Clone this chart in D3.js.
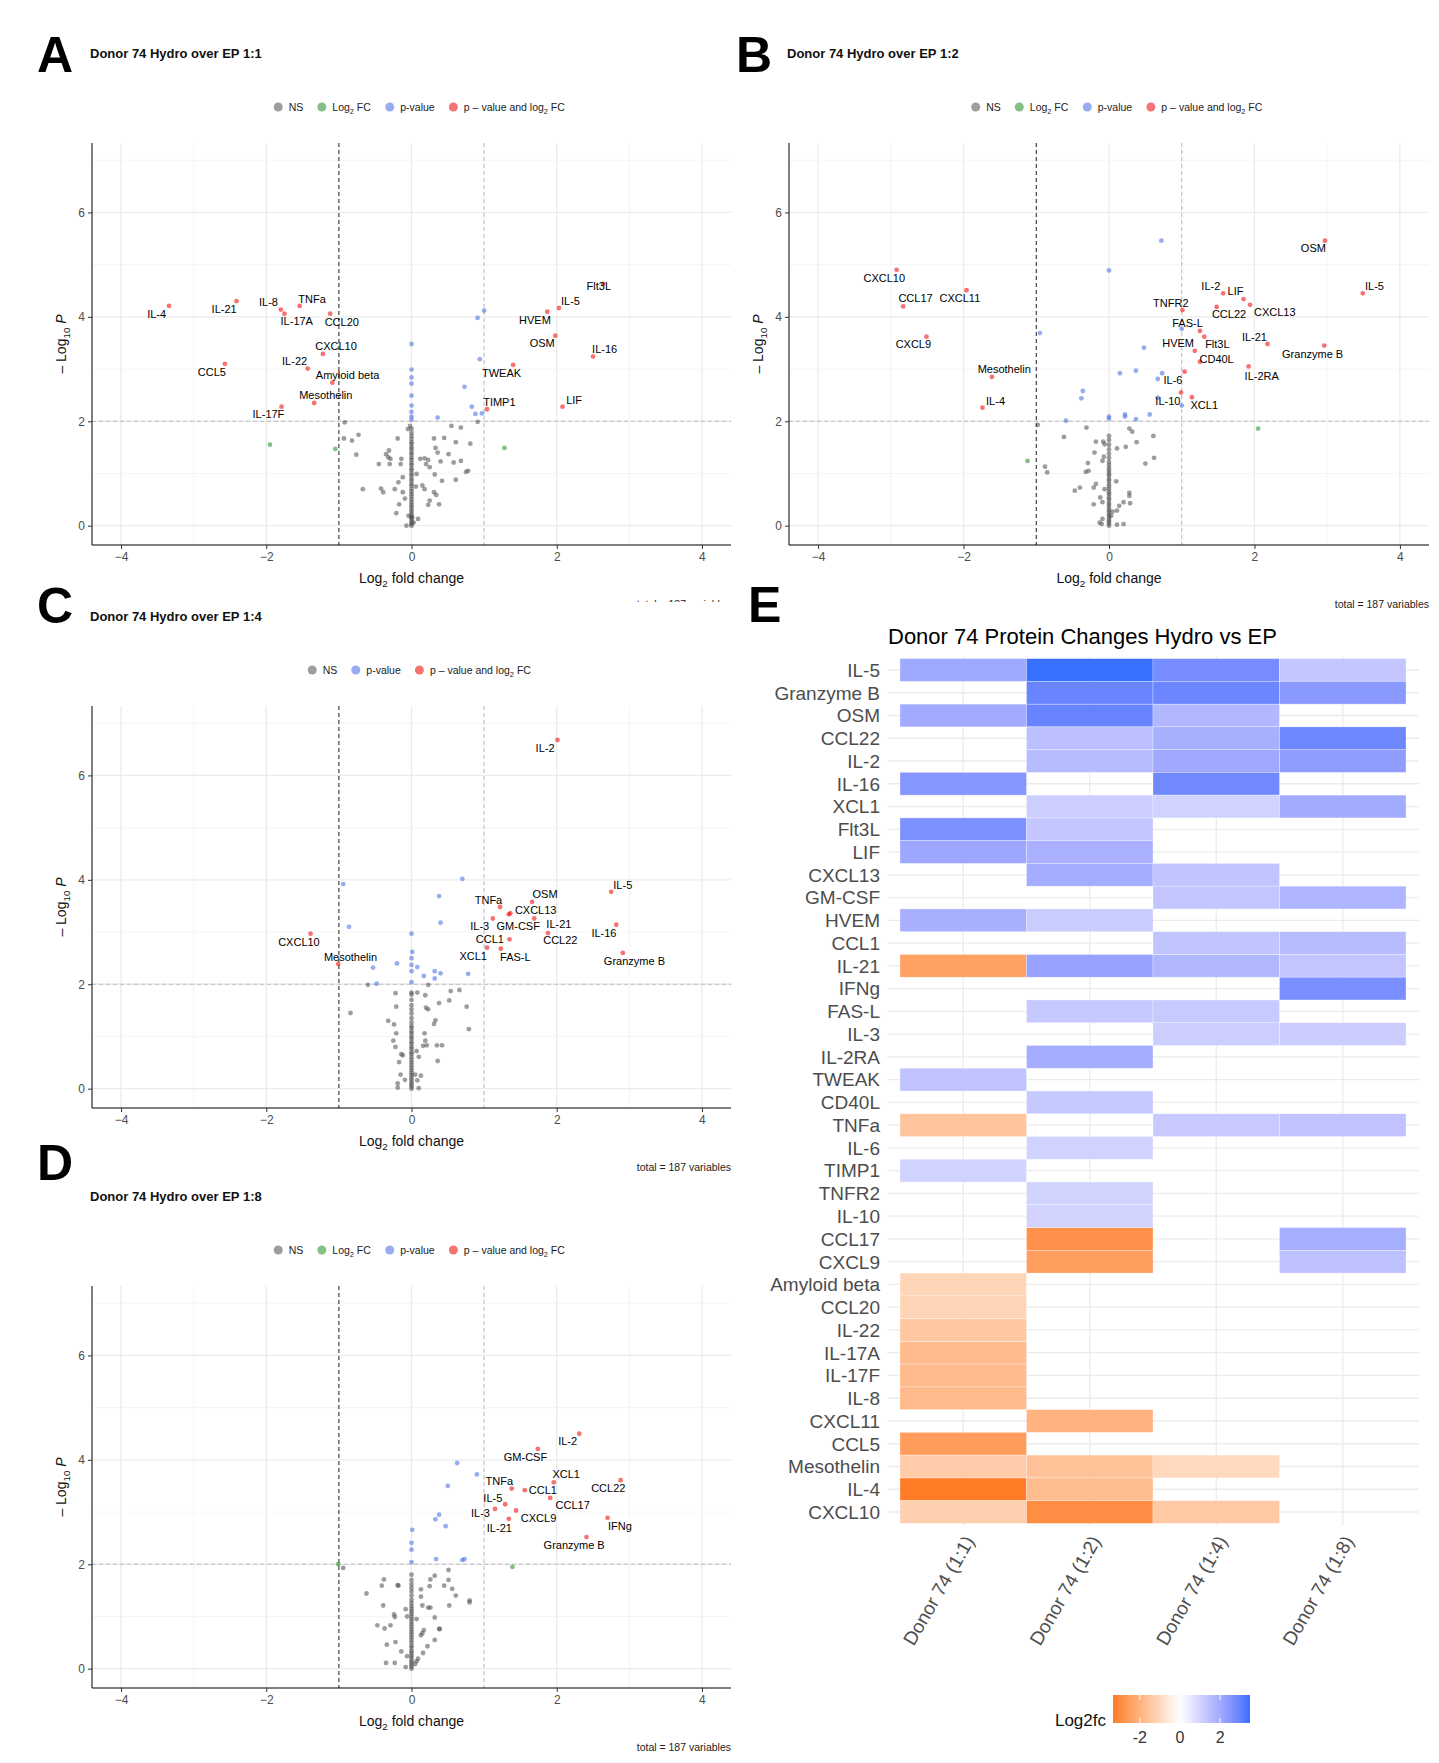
<!DOCTYPE html>
<html lang="en">
<head>
<meta charset="UTF-8">
<title>Donor 74 Hydro over EP</title>
<script src="https://d3js.org/d3.v7.min.js"></script>
<style>
  body { margin: 0; background: #fff; }
  svg { display: block; font-family: "Liberation Sans", Arial, sans-serif; }
</style>
</head>
<body>
<svg id="fig" width="1439" height="1763"></svg>
<script>
// ---- volcano data: [protein, log2FC, -log10 P] for the red (p-value and log2 FC) points
const sig11 = [["IL-4",-3.34,4.21],["IL-21",-2.41,4.30],["IL-8",-1.80,4.14],["IL-17A",-1.75,4.06],["TNFa",-1.54,4.21],
  ["CCL20",-1.12,4.06],["CXCL10",-1.22,3.29],["IL-22",-1.43,3.01],["Amyloid beta",-1.09,2.74],["CCL5",-2.57,3.10],
  ["Mesothelin",-1.34,2.35],["IL-17F",-1.79,2.28],["Flt3L",2.64,4.63],["IL-5",2.03,4.17],["HVEM",1.87,4.10],
  ["OSM",1.98,3.64],["IL-16",2.50,3.24],["TWEAK",1.40,3.08],["TIMP1",1.04,2.23],["LIF",2.08,2.28]];
const sig12 = [["CXCL10",-2.92,4.90],["CCL17",-2.83,4.20],["CXCL11",-1.96,4.51],["CXCL9",-2.51,3.62],["Mesothelin",-1.61,2.85],
  ["IL-4",-1.74,2.26],["OSM",2.97,5.46],["IL-5",3.49,4.45],["IL-2",1.57,4.45],["LIF",1.85,4.34],["CXCL13",1.94,4.23],
  ["CCL22",1.48,4.19],["TNFR2",1.01,4.13],["FAS-L",1.25,3.73],["Flt3L",1.31,3.62],["HVEM",1.18,3.35],["CD40L",1.25,3.14],
  ["IL-21",2.18,3.48],["IL-2RA",1.92,3.05],["Granzyme B",2.96,3.45],["IL-6",1.04,2.95],["IL-10",0.99,2.55],["XCL1",1.14,2.46]];
const sig14 = [["IL-2",2.01,6.68],["IL-5",2.75,3.77],["OSM",1.66,3.58],["TNFa",1.22,3.48],["CXCL13",1.36,3.36],
  ["GM-CSF",1.34,3.34],["IL-3",1.12,3.26],["IL-21",1.69,3.26],["CCL22",1.88,2.98],["IL-16",2.82,3.14],["CCL1",1.35,2.86],
  ["XCL1",1.04,2.70],["FAS-L",1.23,2.68],["Granzyme B",2.91,2.60],["CXCL10",-1.39,2.97],["Mesothelin",-1.01,2.39]];
const sig18 = [["IL-2",2.31,4.50],["GM-CSF",1.74,4.21],["XCL1",1.96,3.57],["CCL22",2.88,3.61],["TNFa",1.38,3.45],
  ["CCL1",1.56,3.42],["IL-5",1.29,3.15],["CCL17",1.91,3.27],["IL-3",1.15,3.06],["CXCL9",1.44,3.03],["IL-21",1.34,2.87],
  ["IFNg",2.70,2.89],["Granzyme B",2.41,2.52]];

// blue (p-value only) points: [log2FC, -log10 P]
const pval11 = [[1.00,4.12],[0.91,3.98],[0,3.48],[0.94,3.19],[0,2.99],[0,2.84],[0,2.72],[0,2.49],[0.73,2.66],[0,2.30],
  [0,2.18],[0,2.09],[0,2.03],[0.83,2.28],[0.88,2.14],[0.97,2.15],[0.36,2.07]];
const pval12 = [[0.72,5.46],[0,4.89],[-0.95,3.69],[1.0,3.77],[0.48,3.41],[0.37,2.97],[0.15,2.92],[0.73,2.92],[0.67,2.81],
  [-0.36,2.58],[-0.38,2.44],[0.67,2.45],[1.0,2.30],[0.56,2.13],[0.22,2.13],[0.22,2.09],[0,2.09],[0,2.05],[0.37,2.04],[-0.59,2.01]];
const pval14 = [[0.70,4.02],[-0.94,3.92],[0.38,3.69],[0.40,3.18],[-0.86,3.10],[0,2.97],[0.01,2.62],[0,2.50],[-0.20,2.40],
  [0,2.37],[0.08,2.33],[-0.53,2.32],[0,2.25],[0.32,2.25],[0.40,2.21],[0.78,2.20],[0.17,2.16],[0.32,2.11],[-0.48,2.01],[0,2.04]];
const pval18 = [[0.63,3.94],[0.90,3.72],[0.50,3.50],[0.38,2.95],[0.33,2.86],[0.47,2.73],[0.01,2.66],[0,2.41],[0,2.28],
  [0,2.04],[0.34,2.10],[0.70,2.08],[0.73,2.10]];

// green (log2 FC only) points
const fc11 = [[-1.95,1.55],[-1.05,1.47],[1.28,1.49]];
const fc12 = [[-1.12,1.24],[2.05,1.86]];
const fc14 = [];
const fc18 = [[-1.01,2.0],[1.39,1.95]];

// grey NS points off the zero line
const ns11 = [[-0.92,1.98],[-0.93,1.67],[-0.82,1.63],[-0.73,1.74],[-0.76,1.36],[-0.31,1.44],[-0.35,1.37],[-0.32,1.31],
  [-0.29,1.28],[-0.45,1.18],[-0.30,1.18],[-0.14,1.28],[-0.15,1.18],[-0.19,1.67],[-0.05,1.85],[-0.02,1.91],[-0.12,0.93],
  [-0.18,0.83],[-0.23,0.70],[-0.42,0.71],[-0.39,0.64],[-0.67,0.70],[-0.12,0.64],[-0.09,0.52],[-0.17,0.41],[-0.21,0.24],
  [-0.07,0.0],[-0.04,0.19],[0.07,0.99],[0.15,0.77],[0.18,0.70],[0.06,0.75],[0.18,1.29],[0.23,1.26],[0.25,1.12],[0.20,1.18],
  [0.12,1.28],[0.31,1.67],[0.45,1.68],[0.33,1.49],[0.36,1.40],[0.51,1.37],[0.40,1.23],[0.58,1.21],[0.55,1.91],[0.68,1.88],
  [0.61,1.60],[0.81,1.57],[0.68,1.24],[0.75,1.03],[0.78,1.05],[0.32,0.98],[0.42,0.86],[0.61,0.88],[0.31,0.64],[0.34,0.59],
  [0.25,0.48],[0.23,0.40],[0.38,0.41],[0.91,1.99],[0.09,0.13],[0.03,0.06],[0.01,0.16]];
const ns12 = [[-0.98,1.93],[-0.31,1.88],[-0.62,1.70],[-0.18,1.61],[-0.08,1.61],[-0.06,1.56],[0.28,1.86],[0.32,1.80],
  [0.38,1.60],[0.23,1.51],[0.11,1.48],[0.61,1.72],[0.62,1.30],[0.50,1.19],[-0.20,1.40],[-0.07,1.32],[-0.09,1.24],
  [-0.29,1.20],[-0.28,1.05],[-0.32,1.03],[-0.88,1.13],[-0.85,1.02],[0.10,0.85],[-0.18,0.80],[-0.21,0.73],[-0.40,0.73],
  [-0.47,0.67],[-0.06,0.70],[-0.12,0.54],[-0.21,0.41],[-0.09,0.45],[0.20,0.45],[0.28,0.63],[0.28,0.57],[0.29,0.43],
  [0.14,0.38],[0.11,0.29],[0.05,0.27],[-0.09,0.13],[-0.13,0.06],[-0.10,0.03],[0.11,0.02],[0.20,0.03],[0.03,0.19]];
const ns14 = [[-0.60,1.99],[0.23,1.99],[-0.22,1.83],[0.08,1.84],[0.19,1.79],[0.54,1.87],[0.66,1.89],[0.52,1.69],[0.38,1.64],
  [-0.21,1.57],[0.20,1.55],[0.23,1.52],[0.76,1.57],[-0.84,1.45],[-0.32,1.30],[-0.24,1.23],[0.33,1.31],[0.31,1.24],
  [-0.21,1.06],[0.18,1.06],[0.79,1.14],[-0.25,0.92],[-0.22,0.80],[0.19,0.92],[0.16,0.82],[0.21,0.83],[0.35,0.83],
  [0.42,0.83],[-0.14,0.66],[-0.12,0.64],[0.07,0.72],[0.10,0.61],[-0.17,0.51],[0.36,0.53],[-0.15,0.27],[-0.09,0.17],
  [0.05,0.27],[0.13,0.25],[0.08,0.16],[-0.19,0.10],[-0.19,0.02],[0.10,0.01]];
const ns18 = [[-0.94,1.93],[-0.62,1.44],[-0.41,1.59],[-0.38,1.71],[-0.19,1.60],[-0.18,1.59],[-0.39,1.21],[-0.47,0.83],
  [-0.37,0.77],[-0.29,0.83],[-0.24,1.04],[-0.23,0.99],[-0.08,1.14],[-0.06,1.00],[-0.34,0.46],[-0.22,0.51],[-0.14,0.33],
  [-0.35,0.11],[-0.23,0.11],[-0.06,0.24],[0.13,1.52],[0.13,1.38],[0.25,1.58],[0.26,1.71],[0.32,1.78],[0.51,1.89],
  [0.45,1.59],[0.51,1.70],[0.56,1.53],[0.61,1.40],[0.52,1.21],[0.80,1.31],[0.80,1.27],[0.15,1.21],[0.23,1.17],[0.26,1.17],
  [0.07,0.95],[0.17,0.74],[0.15,0.68],[0.13,0.64],[0.32,0.98],[0.38,0.76],[0.39,0.76],[0.32,0.55],[0.22,0.43],[0.16,0.30],
  [0.07,0.14],[0.05,0.09],[0.09,0.19],[-0.08,0.03]];

// NS proteins sitting on log2FC = 0: -log10 P values
const zero11 = [0.0,0.03,0.06,0.1,0.14,0.18,0.22,0.27,0.31,0.36,0.4,0.45,0.5,0.55,0.6,0.65,0.7,0.76,0.8,0.86,0.9,0.96,
  1.0,1.06,1.1,1.16,1.2,1.26,1.3,1.36,1.4,1.46,1.5,1.56,1.6,1.66,1.72,1.78,1.86];
const zero12 = [0.0,0.04,0.08,0.12,0.17,0.21,0.26,0.3,0.35,0.4,0.44,0.5,0.54,0.6,0.64,0.7,0.75,0.8,0.86,0.9,0.96,1.0,
  1.05,1.1,1.16,1.22,1.3,1.38,1.46,1.55,1.64,1.72];
const zero14 = [0.0,0.04,0.08,0.12,0.17,0.21,0.26,0.3,0.35,0.4,0.45,0.5,0.55,0.6,0.66,0.7,0.76,0.8,0.86,0.9,0.96,1.0,
  1.06,1.1,1.16,1.2,1.27,1.35,1.44,1.52,1.6,1.7,1.8,1.84];
const zero18 = [0.0,0.04,0.08,0.12,0.16,0.21,0.25,0.3,0.34,0.4,0.44,0.5,0.55,0.6,0.65,0.7,0.75,0.8,0.85,0.9,0.95,1.0,
  1.05,1.1,1.15,1.2,1.26,1.32,1.4,1.48,1.55,1.62,1.7,1.8];

// heatmap rows / columns
const heatRows = ["IL-5","Granzyme B","OSM","CCL22","IL-2","IL-16","XCL1","Flt3L","LIF","CXCL13","GM-CSF","HVEM","CCL1",
  "IL-21","IFNg","FAS-L","IL-3","IL-2RA","TWEAK","CD40L","TNFa","IL-6","TIMP1","TNFR2","IL-10","CCL17","CXCL9",
  "Amyloid beta","CCL20","IL-22","IL-17A","IL-17F","IL-8","CXCL11","CCL5","Mesothelin","IL-4","CXCL10"];
const heatCols = ["Donor 74 (1:1)","Donor 74 (1:2)","Donor 74 (1:4)","Donor 74 (1:8)"];
const heatSources = [sig11, sig12, sig14, sig18];
const xTicks = [-4,-2,0,2,4];
const yTicks = [0,2,4,6];
const barTicks = [-2,0,2];

// ---- label placements (repelled text positions, in data units)
const lab11 = {"IL-4":[-3.51,4.05],"IL-21":[-2.58,4.14],"IL-8":[-1.97,4.28],"IL-17A":[-1.58,3.91],"TNFa":[-1.37,4.34],
  "CCL20":[-0.96,3.89],"CXCL10":[-1.04,3.43],"IL-22":[-1.61,3.16],"Amyloid beta":[-0.88,2.89],"CCL5":[-2.75,2.95],
  "Mesothelin":[-1.18,2.50],"IL-17F":[-1.97,2.13],"Flt3L":[2.58,4.58],"IL-5":[2.19,4.31],"HVEM":[1.70,3.94],
  "OSM":[1.80,3.50],"IL-16":[2.66,3.38],"TWEAK":[1.24,2.92],"TIMP1":[1.21,2.37],"LIF":[2.24,2.41]};
const lab12 = {"CXCL10":[-3.09,4.74],"CCL17":[-2.66,4.35],"CXCL11":[-2.05,4.35],"CXCL9":[-2.69,3.47],"Mesothelin":[-1.44,2.99],
  "IL-4":[-1.56,2.39],"OSM":[2.81,5.31],"IL-5":[3.65,4.59],"IL-2":[1.40,4.59],"LIF":[1.74,4.50],"CXCL13":[2.28,4.09],
  "CCL22":[1.65,4.05],"TNFR2":[0.85,4.26],"FAS-L":[1.08,3.88],"Flt3L":[1.49,3.48],"HVEM":[0.95,3.49],"CD40L":[1.48,3.19],
  "IL-21":[2.00,3.62],"IL-2RA":[2.10,2.87],"Granzyme B":[2.80,3.28],"IL-6":[0.88,2.79],"IL-10":[0.81,2.38],"XCL1":[1.31,2.30]};
const lab14 = {"IL-2":[1.84,6.53],"IL-5":[2.91,3.90],"OSM":[1.84,3.73],"TNFa":[1.06,3.61],"CXCL13":[1.71,3.42],
  "GM-CSF":[1.47,3.11],"IL-3":[0.94,3.11],"IL-21":[2.03,3.16],"CCL22":[2.05,2.84],"IL-16":[2.65,2.98],"CCL1":[1.08,2.86],
  "XCL1":[0.85,2.54],"FAS-L":[1.43,2.51],"Granzyme B":[3.07,2.45],"CXCL10":[-1.55,2.81],"Mesothelin":[-0.84,2.52]};
const lab18 = {"IL-2":[2.15,4.35],"GM-CSF":[1.57,4.06],"XCL1":[2.13,3.72],"CCL22":[2.71,3.45],"TNFa":[1.21,3.59],
  "CCL1":[1.81,3.42],"IL-5":[1.12,3.27],"CCL17":[2.22,3.13],"IL-3":[0.95,2.97],"CXCL9":[1.75,2.88],"IL-21":[1.21,2.69],
  "IFNg":[2.87,2.73],"Granzyme B":[2.24,2.36]};

const cols = {ns: "#4D4D4D", fc: "#228B22", pv: "#4169E1", both: "#EE0000"};

const panels = [
  {letter:"A", lx:37, ly:72, title:"Donor 74 Hydro over EP  1:1", sig:sig11, pv:pval11, fc:fc11, ns:ns11, zero:zero11, lab:lab11,
   left:92, right:731, top:143, bottom:545, green:true},
  {letter:"B", lx:736, ly:72, title:"Donor 74 Hydro over EP  1:2", sig:sig12, pv:pval12, fc:fc12, ns:ns12, zero:zero12, lab:lab12,
   left:789, right:1429, top:143, bottom:545, green:true},
  {letter:"C", lx:37, ly:623, title:"Donor 74 Hydro over EP  1:4", sig:sig14, pv:pval14, fc:fc14, ns:ns14, zero:zero14, lab:lab14,
   left:92, right:731, top:706, bottom:1108, green:false},
  {letter:"D", lx:37, ly:1180, title:"Donor 74 Hydro over EP  1:8", sig:sig18, pv:pval18, fc:fc18, ns:ns18, zero:zero18, lab:lab18,
   left:92, right:731, top:1286, bottom:1688, green:true}
];

const svg = d3.select("#fig");
svg.append("rect").attr("width", 1439).attr("height", 1763).attr("fill", "#fff");

// text with subscript / italic pieces
function rich(sel, parts, size) {
  let shifted = false;
  parts.forEach(([s, kind]) => {
    const ts = sel.append("tspan").text(s);
    if (kind === "sub") { ts.attr("font-size", size * 0.7).attr("dy", size * 0.3); shifted = true; }
    else if (shifted) { ts.attr("dy", -size * 0.3); shifted = false; }
    if (kind === "i") ts.attr("font-style", "italic");
  });
  return sel;
}

function drawVolcano(p) {
  const x = d3.scaleLinear().domain([-4.4, 4.4]).range([p.left, p.right]);
  const y = d3.scaleLinear().domain([-0.37, 7.33]).range([p.bottom, p.top]);
  const g = svg.append("g");

  g.append("text").attr("x", p.lx).attr("y", p.ly).attr("font-size", 50).attr("font-weight", "bold").text(p.letter);
  g.append("text").attr("x", p.left - 2).attr("y", p.top - 85).attr("font-size", 13).attr("font-weight", "bold")
    .attr("fill", "#111").text(p.title);

  // legend
  const items = [["NS", cols.ns, [["NS"]]]];
  if (p.green) items.push(["fc", cols.fc, [["Log"],["2","sub"],[" FC"]]]);
  items.push(["pv", cols.pv, [["p-value"]]]);
  items.push(["both", cols.both, [["p \u2013 value and log"],["2","sub"],[" FC"]]]);
  const lg = g.append("g");
  let lx = 0;
  items.forEach(([k, c, parts]) => {
    lg.append("circle").attr("cx", lx + 4.5).attr("cy", 0).attr("r", 4.5).attr("fill", c).attr("fill-opacity", 0.55);
    const t = lg.append("text").attr("x", lx + 15).attr("y", 3.8).attr("font-size", 10.5).attr("fill", "#222");
    rich(t, parts, 10.5);
    lx += 15 + t.node().getBBox().width + 14;
  });
  lg.attr("transform", `translate(${(p.left + p.right) / 2 + 8 - (lx - 14) / 2},${p.top - 36})`);

  // grid
  const grid = g.append("g");
  d3.range(-4, 5).forEach(v => grid.append("line").attr("x1", x(v)).attr("x2", x(v)).attr("y1", p.top).attr("y2", p.bottom)
    .attr("stroke", v % 2 === 0 ? "#EBEBEB" : "#F3F3F3").attr("stroke-width", v % 2 === 0 ? 1.3 : 0.8));
  d3.range(0, 8).forEach(v => grid.append("line").attr("y1", y(v)).attr("y2", y(v)).attr("x1", p.left).attr("x2", p.right)
    .attr("stroke", v % 2 === 0 ? "#EBEBEB" : "#F3F3F3").attr("stroke-width", v % 2 === 0 ? 1.3 : 0.8));

  // cutoffs
  g.append("line").attr("x1", x(-1)).attr("x2", x(-1)).attr("y1", p.top).attr("y2", p.bottom)
    .attr("stroke", "#222").attr("stroke-dasharray", "4,3");
  g.append("line").attr("x1", x(1)).attr("x2", x(1)).attr("y1", p.top).attr("y2", p.bottom)
    .attr("stroke", "#BDBDBD").attr("stroke-dasharray", "4,3");
  g.append("line").attr("x1", p.left).attr("x2", p.right).attr("y1", y(2)).attr("y2", y(2))
    .attr("stroke", "#BDBDBD").attr("stroke-dasharray", "4,3");

  // points
  const dot = (data, fx, fy, c) => g.append("g").selectAll("circle").data(data).join("circle")
    .attr("cx", d => x(fx(d))).attr("cy", d => y(fy(d))).attr("r", 2.4)
    .attr("fill", c).attr("fill-opacity", 0.55);
  dot(p.zero, d => 0, d => d, cols.ns);
  dot(p.ns, d => d[0], d => d[1], cols.ns);
  dot(p.fc, d => d[0], d => d[1], cols.fc);
  dot(p.pv, d => d[0], d => d[1], cols.pv);
  dot(p.sig, d => d[1], d => d[2], cols.both);

  g.append("g").selectAll("text").data(p.sig).join("text")
    .attr("x", d => x(p.lab[d[0]][0])).attr("y", d => y(p.lab[d[0]][1]))
    .attr("dy", "0.35em").attr("text-anchor", "middle").attr("font-size", 11).attr("fill", "#000")
    .text(d => d[0]);

  // axes
  const xa = g.append("g").attr("transform", `translate(0,${p.bottom})`)
    .call(d3.axisBottom(x).tickValues(xTicks).tickSize(4).tickPadding(3).tickFormat(d3.format("d")));
  const ya = g.append("g").attr("transform", `translate(${p.left},0)`)
    .call(d3.axisLeft(y).tickValues(yTicks).tickSize(4).tickPadding(3).tickFormat(d3.format("d")));
  [xa, ya].forEach(a => {
    a.select(".domain").attr("stroke", "#000");
    a.selectAll(".tick line").attr("stroke", "#333");
    a.selectAll(".tick text").attr("font-size", 12).attr("fill", "#4D4D4D").attr("font-family", "Liberation Sans, Arial, sans-serif");
  });
  xa.select(".domain").attr("d", `M${p.left},0H${p.right}`);
  ya.select(".domain").attr("d", `M0,${p.bottom}V${p.top}`);

  rich(g.append("text").attr("x", (p.left + p.right) / 2).attr("y", p.bottom + 38)
    .attr("text-anchor", "middle").attr("font-size", 14).attr("fill", "#111"),
    [["Log"],["2","sub"],[" fold change"]], 14);
  rich(g.append("text").attr("transform", `translate(${p.left - 26},${(p.top + p.bottom) / 2}) rotate(-90)`)
    .attr("text-anchor", "middle").attr("font-size", 14).attr("fill", "#111"),
    [["\u2013 Log"],["10","sub"],[" "],["P","i"]], 14);

  g.append("text").attr("x", p.right).attr("y", p.bottom + 63).attr("text-anchor", "end")
    .attr("font-size", 10.5).attr("fill", "#222").text("total = 187 variables");
}

drawVolcano(panels[0]);
drawVolcano(panels[1]);
// panel C sits over the foot of panel A
svg.append("rect").attr("x", 0).attr("y", 602).attr("width", 745).attr("height", 560).attr("fill", "#fff");
drawVolcano(panels[2]);
drawVolcano(panels[3]);

// ---- heatmap E
const cells = [];
heatCols.forEach((c, i) => heatSources[i].forEach(([name, lfc]) => {
  if (heatRows.includes(name)) cells.push({row: name, col: c, v: lfc});
}));
const vmin = d3.min(cells, d => d.v), vmax = d3.max(cells, d => d.v);
const maxAbs = d3.max(cells, d => Math.abs(d.v));
const lowC = "#FF7518", midC = "#FFFFFF", highC = "#3870FF";
const toLow = d3.interpolateLab(midC, lowC), toHigh = d3.interpolateLab(midC, highC);
const fill = v => v < 0 ? toLow(-v / maxAbs) : toHigh(v / maxAbs);

const hx = d3.scaleBand().domain(heatCols).range([900, 1406]);
const hy = d3.scaleBand().domain(heatRows).range([658.6, 1523.4]);
const hg = svg.append("g");
hg.append("text").attr("x", 748).attr("y", 622).attr("font-size", 50).attr("font-weight", "bold").text("E");
hg.append("text").attr("x", 888).attr("y", 644).attr("font-size", 22).attr("fill", "#000")
  .text("Donor 74 Protein Changes Hydro vs EP");

// discrete axes expand 0.6 of a band on each side
const padX = 0.1 * hx.bandwidth(), padY = 0.1 * hy.bandwidth();
hg.append("g").selectAll("line").data(heatRows).join("line")
  .attr("x1", hx.range()[0] - padX).attr("x2", hx.range()[1] + padX)
  .attr("y1", d => hy(d) + hy.bandwidth() / 2).attr("y2", d => hy(d) + hy.bandwidth() / 2)
  .attr("stroke", "#EBEBEB").attr("stroke-width", 1.3);
hg.append("g").selectAll("line").data(heatCols).join("line")
  .attr("x1", d => hx(d) + hx.bandwidth() / 2).attr("x2", d => hx(d) + hx.bandwidth() / 2)
  .attr("y1", hy.range()[0] - padY).attr("y2", hy.range()[1] + padY)
  .attr("stroke", "#EBEBEB").attr("stroke-width", 1.3);

hg.append("g").selectAll("rect").data(cells).join("rect")
  .attr("x", d => hx(d.col)).attr("y", d => hy(d.row))
  .attr("width", hx.bandwidth()).attr("height", hy.bandwidth())
  .attr("fill", d => fill(d.v)).attr("stroke", "#fff").attr("stroke-width", 0.6).attr("stroke-opacity", 0.5);

hg.append("g").selectAll("text").data(heatRows).join("text")
  .attr("x", 880).attr("y", d => hy(d) + hy.bandwidth() / 2).attr("dy", "0.36em")
  .attr("text-anchor", "end").attr("font-size", 19).attr("fill", "#4D4D4D").text(d => d);

hg.append("g").selectAll("text").data(heatCols).join("text")
  .attr("transform", d => `translate(${hx(d) + hx.bandwidth() / 2 + 6},${hy.range()[1] + 14}) rotate(-60)`)
  .attr("text-anchor", "end").attr("dy", "0.35em").attr("font-size", 19).attr("fill", "#4D4D4D").text(d => d);

// colour bar
const bx = d3.scaleLinear().domain([vmin, vmax]).range([1113, 1250]);
const grad = svg.append("defs").append("linearGradient").attr("id", "bar");
d3.range(0, 21).forEach(i => {
  const v = vmin + (vmax - vmin) * i / 20;
  grad.append("stop").attr("offset", `${i * 5}%`).attr("stop-color", fill(v));
});
hg.append("rect").attr("x", bx(vmin)).attr("y", 1695).attr("width", bx(vmax) - bx(vmin)).attr("height", 28)
  .attr("fill", "url(#bar)");
barTicks.forEach(t => {
  hg.append("line").attr("x1", bx(t)).attr("x2", bx(t)).attr("y1", 1695).attr("y2", 1700).attr("stroke", "#fff");
  hg.append("line").attr("x1", bx(t)).attr("x2", bx(t)).attr("y1", 1718).attr("y2", 1723).attr("stroke", "#fff");
  hg.append("text").attr("x", bx(t)).attr("y", 1743).attr("text-anchor", "middle").attr("font-size", 16)
    .attr("fill", "#333").text(t);
});
hg.append("text").attr("x", 1106).attr("y", 1726).attr("text-anchor", "end").attr("font-size", 17)
  .attr("fill", "#111").text("Log2fc");
</script>
</body>
</html>
